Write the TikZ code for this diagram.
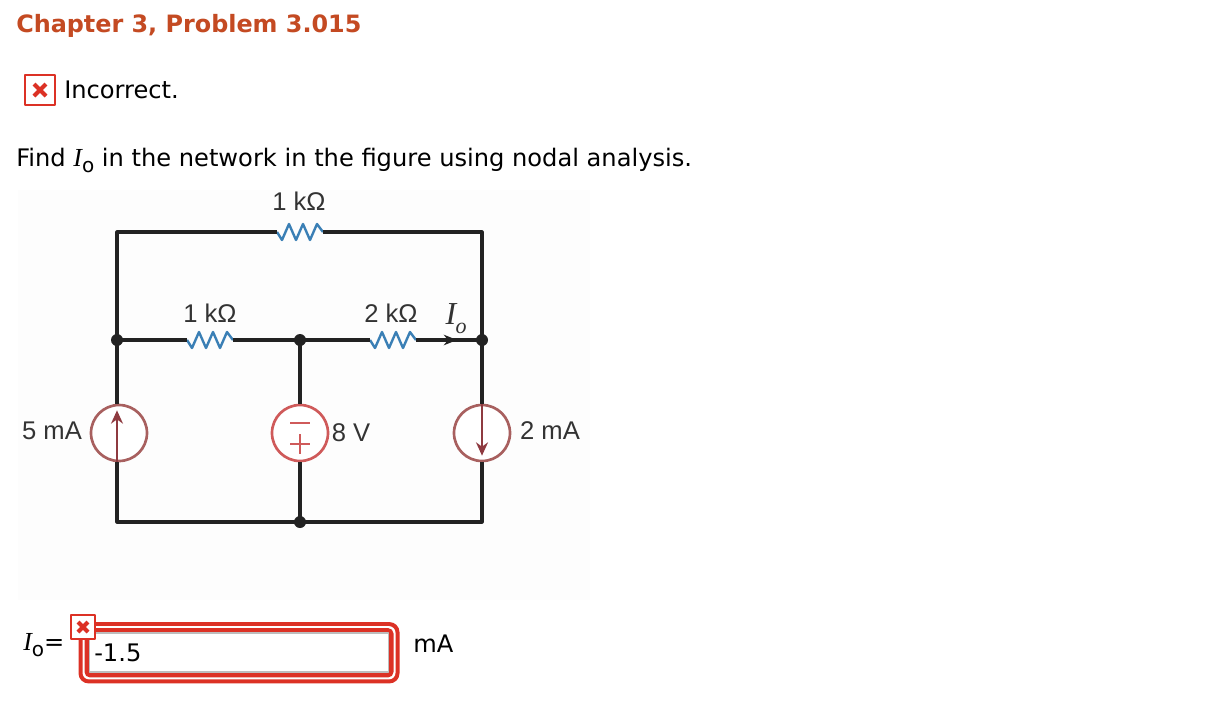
\documentclass[tikz,border=0pt]{standalone}
\usepackage{fontspec}
\setmainfont{DejaVu Sans}
\newfontfamily\figfont{Liberation Sans}
\newfontfamily\varfont{Liberation Serif}
\usetikzlibrary{arrows.meta}
\definecolor{titlered}{HTML}{C44A22}
\definecolor{markred}{HTML}{DC3125}
\definecolor{wireblack}{HTML}{222222}
\definecolor{zigblue}{HTML}{3A7FB5}
\definecolor{srcbrown}{HTML}{A8605F}
\definecolor{srcred}{HTML}{CF5A5A}
\definecolor{arrowbrown}{HTML}{8E3A40}
\definecolor{figgray}{HTML}{FDFDFD}
\definecolor{inputgray}{HTML}{BDBDBD}
\newcommand{\pagefont}{\fontsize{18.1pt}{22pt}\selectfont}
\newcommand{\figlab}{\figfont\fontsize{19.2pt}{22pt}\selectfont}
\newcommand{\curr}{{\varfont\itshape\fontsize{19.5pt}{22pt}\selectfont I}\raisebox{-4.5pt}{\fontsize{15pt}{18pt}\selectfont o}}
\newcommand{\zigzag}[3]{% name, left end x, y
	\coordinate (#1w) at (#2,#3);
	\coordinate (#1e) at (#2+46,#3);
	\draw[zig] (#1w)--++(5,8)--++(7,-16)--++(7,16)--++(7,-16)--++(7,16)--++(7,-16)--++(6,8);
}
\newcommand{\cross}[2]{% box node, half size
	\draw[markred,line width=3pt] (#1.center)++(-#2,-#2)--++(2*#2,2*#2);
	\draw[markred,line width=3pt] (#1.center)++(#2,-#2)--++(-2*#2,2*#2);
}
\tikzset{
	wire/.style={line width=2.3pt,color=wireblack},
	zig/.style={line width=1.8pt,color=zigblue},
	junction/.style={circle,fill=wireblack,inner sep=0pt,minimum size=9pt},
	source/.style={circle,draw=srcbrown,fill=white,line width=2pt,inner sep=0pt,minimum size=42pt},
	vsource/.style={source,draw=srcred},
	polarity/.style={line width=1.1pt,color=srcred},
	lab/.style={inner sep=0pt,font=\figlab,text=black!80},
	pagetext/.style={inner sep=0pt,anchor=base west,font=\pagefont,text=black},
	xbox/.style={draw=markred,line width=1.6pt,fill=white,inner sep=0pt},
	ring/.style={rectangle,inner sep=0pt},
	srcarrow/.style={-{Stealth[length=10pt,width=9pt]},line width=1.3pt,color=arrowbrown}
}
\begin{document}
\begin{tikzpicture}[x=0.75pt,y=-0.75pt,line join=round,>=Stealth]
	\def\xl{117}\def\xm{300}\def\xr{482}
	\def\yt{232}\def\ym{340}\def\yb{522}\def\ys{433}
	\path[use as bounding box,fill=white] (0,0) rectangle (1224,708);
	\fill[figgray] (18,190) rectangle (590,600);
	% header
	\node[pagetext,text=titlered,font=\fontsize{17.9pt}{22pt}\selectfont\bfseries] (title) at (16,32) {Chapter 3, Problem 3.015};
	\node[xbox,minimum size=23pt] (markA) at (40,90) {};
	\cross{markA}{6}
	\node[pagetext] (verdict) at (64,98) {Incorrect.};
	\node[pagetext] (task) at (16,166) {Find \curr{} in the network in the figure using nodal analysis.};
	% circuit
	\coordinate (tl) at (\xl,\yt);
	\coordinate (tr) at (\xr,\yt);
	\coordinate (bl) at (\xl,\yb);
	\coordinate (br) at (\xr,\yb);
	\node[junction] (jl) at (\xl,\ym) {};
	\node[junction] (jm) at (\xm,\ym) {};
	\node[junction] (jr) at (\xr,\ym) {};
	\node[junction] (jb) at (\xm,\yb) {};
	\zigzag{rt}{277}{\yt}
	\zigzag{rl}{187}{\ym}
	\zigzag{rr}{370}{\ym}
	\node[source] (sl) at (\xl+2,\ys) {};
	\node[vsource] (sm) at (\xm,\ys) {};
	\node[source] (sr) at (\xr,\ys) {};
	\draw[wire] (rtw)--(tl)--(jl.center);
	\draw[wire] (rte)--(tr)--(jr.center);
	\draw[wire] (jl.center)--(rlw);
	\draw[wire] (rle)--(jm.center)--(rrw);
	\draw[wire] (rre)--(jr.center);
	\draw[wire] (jl.center)--(sl.north-|jl);
	\draw[wire] (sl.south-|jl)--(bl)--(jb.center);
	\draw[wire] (jm.center)--(sm);
	\draw[wire] (sm)--(jb.center);
	\draw[wire] (jr.center)--(sr);
	\draw[wire] (sr)--(br)--(jb.center);
	\draw[-{Stealth[length=10pt,width=8pt]},line width=1pt,color=wireblack] (rre)--++(41,0);
	\draw[srcarrow] (sl.south-|jl)--([yshift=-5pt]sl.north-|jl);
	\draw[srcarrow] (sr.north)--([yshift=5pt]sr.south);
	% polarity marks
	\draw[polarity] (\xm-10,\ys-10)--(\xm+10,\ys-10);
	\draw[polarity] (\xm-10,\ys+11)--(\xm+10,\ys+11);
	\draw[polarity] (\xm,\ys+1)--(\xm,\ys+21);
	\node[lab] (ltop) at (299,201) {1 kΩ};
	\node[lab] (lleft) at (210,313) {1 kΩ};
	\node[lab] (lright) at (391,313) {2 kΩ};
	\node[lab,font=\varfont\itshape\fontsize{24pt}{24pt}\selectfont] (lio) at (451,314) {I};
	\node[lab,font=\varfont\itshape\fontsize{16.5pt}{16.5pt}\selectfont] (liosub) at (461,328) {o};
	\node[lab] (l5) at (52,431) {5 mA};
	\node[lab] (l8) at (351,433) {8 V};
	\node[lab] (l2) at (550,431) {2 mA};
	% answer row
	\node[ring,fill=markred,rounded corners=7.5pt,minimum width=240.75pt,minimum height=46pt] (boxa) at (239,652.75) {};
	\node[ring,fill=white,rounded corners=5pt,minimum width=234.75pt,minimum height=40pt] (boxb) at (239,652.75) {};
	\node[ring,fill=markred,rounded corners=4pt,minimum width=231.75pt,minimum height=37pt] (boxc) at (239,652.75) {};
	\node[ring,fill=white,draw=inputgray,line width=1.1pt,minimum width=224pt,minimum height=29.5pt] (input) at (239,652.5) {};
	\node[xbox,minimum size=18pt] (markB) at (83,627) {};
	\cross{markB}{5}
	\node[pagetext] (ans) at (94,661.5) {-1.5};
	\node[pagetext] (unit) at (413,652) {mA};
	\node[pagetext] (eq) at (23,650) {\curr{}=};
\end{tikzpicture}
\end{document}
